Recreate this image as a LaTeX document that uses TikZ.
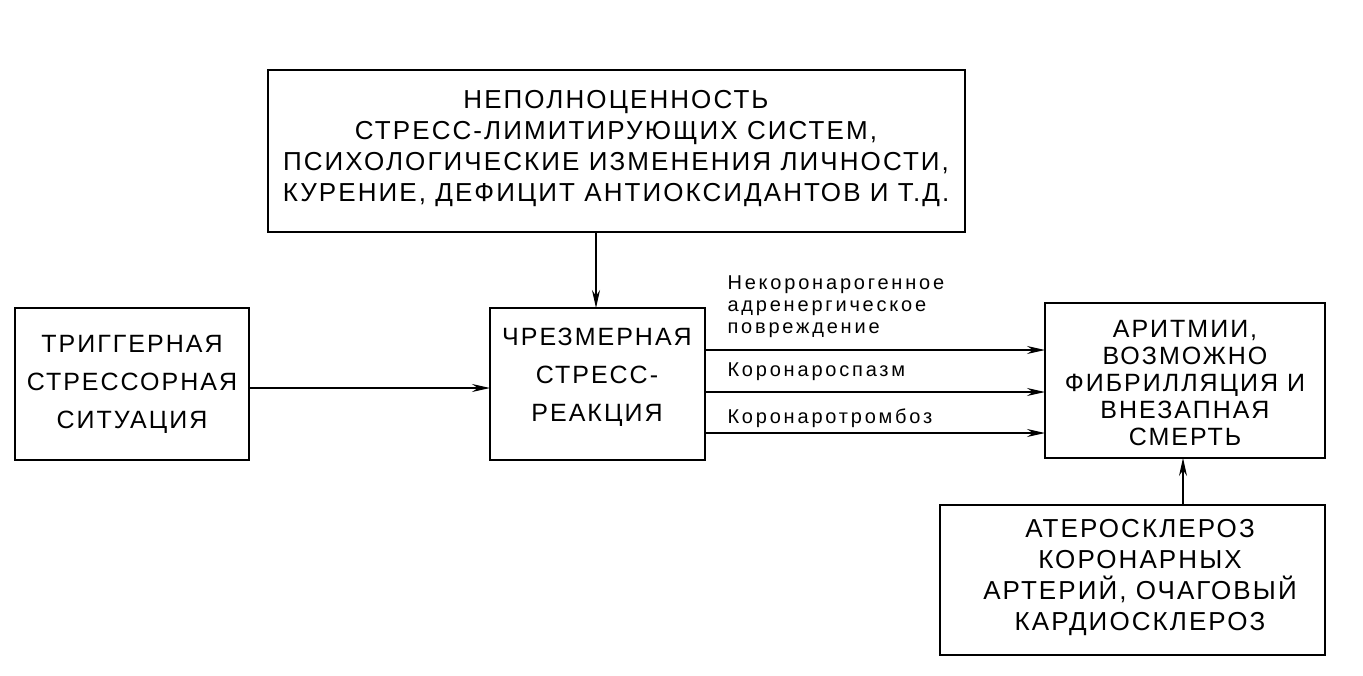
\documentclass[tikz,border=0pt]{standalone}
\usepackage{fontspec}
\setmainfont{Liberation Sans}
\newfontfamily\spc[LetterSpace=8]{Liberation Sans}
\newfontfamily\spl[LetterSpace=14]{Liberation Sans}
\usetikzlibrary{arrows.meta}
\begin{document}
\begin{tikzpicture}[x=1pt,y=-1pt,
  bx/.style={draw,line width=2.4pt},
  tx/.style={align=center,font=\spc\fontsize{26}{31}\selectfont},
  lb/.style={anchor=west,align=left,font=\spl\fontsize{20}{22}\selectfont},
  ar/.style={line width=1.2pt,-{Stealth[length=18pt,width=8pt]}}]
\useasboundingbox (0,0) rectangle (1363,675);
\draw[bx] (268,70) rectangle (965,232);
\node[tx] (top) at (616,149) {НЕПОЛНОЦЕННОСТЬ\\СТРЕСС-ЛИМИТИРУЮЩИХ СИСТЕМ,\\ПСИХОЛОГИЧЕСКИЕ ИЗМЕНЕНИЯ ЛИЧНОСТИ,\\КУРЕНИЕ, ДЕФИЦИТ АНТИОКСИДАНТОВ И Т.Д.};
\draw[bx] (15,308) rectangle (249,460);
\node[tx,font=\spc\fontsize{25}{38}\selectfont] (l) at (132,384) {ТРИГГЕРНАЯ\\СТРЕССОРНАЯ\\СИТУАЦИЯ};
\draw[bx] (490,308) rectangle (705,460);
\node[tx,font=\spc\fontsize{25}{38}\selectfont] (m) at (597,377) {ЧРЕЗМЕРНАЯ\\СТРЕСС-\\РЕАКЦИЯ};
\draw[bx] (1045,303) rectangle (1325,458);
\node[tx,font=\spc\fontsize{25}{27}\selectfont] (r) at (1185,383) {АРИТМИИ,\\ВОЗМОЖНО\\ФИБРИЛЛЯЦИЯ И\\ВНЕЗАПНАЯ\\СМЕРТЬ};
\draw[bx] (940,505) rectangle (1325,655);
\node[tx] (b) at (1140,578) {АТЕРОСКЛЕРОЗ\\КОРОНАРНЫХ\\АРТЕРИЙ, ОЧАГОВЫЙ\\КАРДИОСКЛЕРОЗ};
\coordinate (t1) at (596,232); \coordinate (t2) at (596,308);
\draw[ar] (t1) -- (t2);
\coordinate (l1) at (249,388); \coordinate (l2) at (490,388);
\draw[ar] (l1) -- (l2);
\foreach \y/\n in {350/a,392/b,433/c}{
  \coordinate (s\n) at (705,\y); \coordinate (e\n) at (1045,\y);
  \draw[ar] (s\n) -- (e\n);}
\coordinate (u1) at (1183,505); \coordinate (u2) at (1183,458);
\draw[ar] (u1) -- (u2);
\node[lb] (n1) at (724,307) {Некоронарогенное\\адренергическое\\повреждение};
\node[lb] (n2) at (724,372) {Коронароспазм};
\node[lb] (n3) at (724,418) {Коронаротромбоз};
\end{tikzpicture}
\end{document}
